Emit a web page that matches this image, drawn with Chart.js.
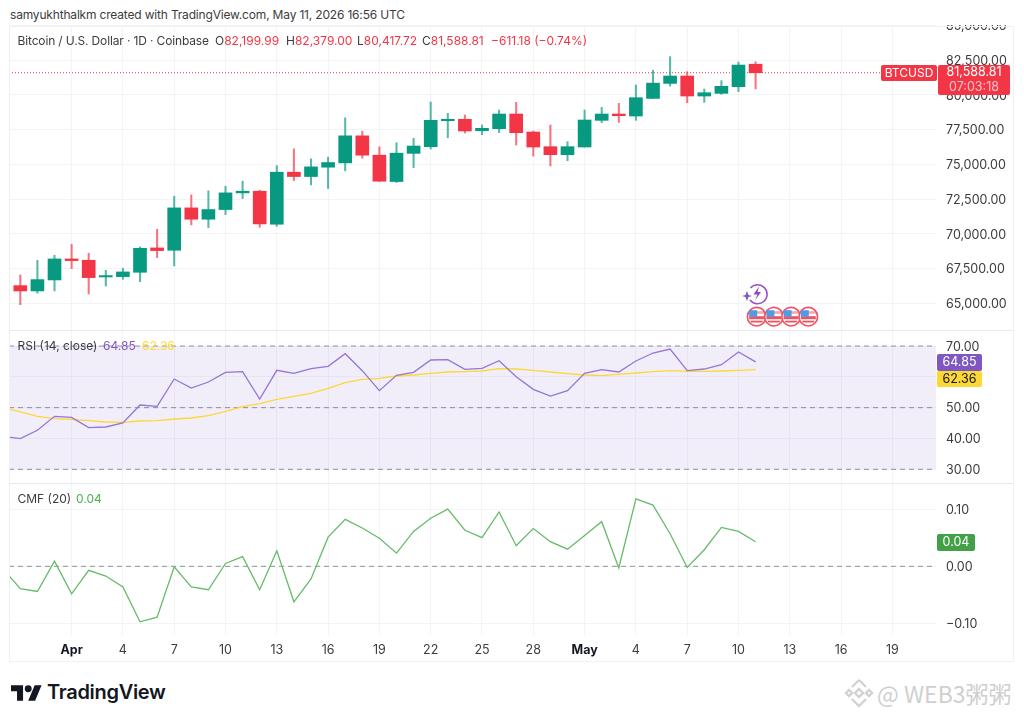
<!DOCTYPE html>
<html>
<head>
<meta charset="utf-8">
<title>BTCUSD</title>
<script src="https://cdn.jsdelivr.net/npm/chart.js@4"></script>
<style>
  html, body { margin: 0; padding: 0; background: #fff; }
  body { position: relative; width: 1024px; height: 721px; overflow: hidden; font-family: Inter, sans-serif; color: #3c3c40; font-size: 12px; }
  canvas { position: absolute; }
  .abs { position: absolute; white-space: nowrap; }
  .frame { position: absolute; left: 9px; top: 26px; width: 1005px; height: 636px; border: 1px solid #f0f1f3; box-sizing: border-box; }
  .sep { position: absolute; left: 9px; width: 1005px; height: 1px; background: #e9eaed; }
  .row { line-height: 16px; }
  .red { color: #f23645; }
  .tag { position: absolute; border-radius: 2px; text-align: center; color: #fff; line-height: 16px; font-size: 12.5px; }
</style>
</head>
<body>
<div class="abs row" style="left:10px;top:7px;letter-spacing:-0.18px">samyukhthalkm created with TradingView.com, May 11, 2026 16:56 UTC</div>

<canvas id="priceChart" width="1005" height="305" style="left:9px;top:25px;width:1005px;height:305px"></canvas>
<canvas id="rsiChart" width="1005" height="152" style="left:9px;top:331px;width:1005px;height:152px"></canvas>
<canvas id="cmfChart" width="1005" height="178" style="left:9px;top:484px;width:1005px;height:178px"></canvas>

<div class="frame"></div>
<div class="sep" style="top:330px"></div>
<div class="sep" style="top:483px"></div>

<div class="abs row" style="left:17.5px;top:33px;letter-spacing:-0.14px">Bitcoin / U.S. Dollar · 1D · Coinbase</div>
<div class="abs row" style="left:215px;top:33px">O<span class="red">82,199.99</span></div>
<div class="abs row" style="left:286px;top:33px">H<span class="red">82,379.00</span></div>
<div class="abs row" style="left:357px;top:33px">L<span class="red">80,417.72</span></div>
<div class="abs row" style="left:422px;top:33px">C<span class="red">81,588.81</span></div>
<div class="abs row red" style="left:491px;top:33px">−611.18 (−0.74%)</div>

<div class="abs row" style="left:17.5px;top:338px">RSI (14, close)</div>
<div class="abs row" style="left:103px;top:338px;color:#7e57c2">64.85</div>
<div class="abs row" style="left:142px;top:338px;color:#fdd835">62.36</div>

<div class="abs row" style="left:17.5px;top:491px">CMF (20)</div>
<div class="abs row" style="left:76px;top:491px;color:#4caf50">0.04</div>

<div class="tag" style="left:881px;top:65px;width:56px;height:16px;background:#f23645;font-size:12px">BTCUSD</div>
<div class="tag" style="left:938px;top:65px;width:72px;height:30px;background:#f23645;line-height:14.5px">81,588.81<br><span style="color:#fbc5ca">07:03:18</span></div>
<div class="tag" style="left:937px;top:354px;width:45px;height:16.5px;background:#7e57c2">64.85</div>
<div class="tag" style="left:937px;top:370.5px;width:45px;height:16.5px;background:#fdd835;color:#131722">62.36</div>
<div class="tag" style="left:937px;top:534px;width:38px;height:16.5px;background:#43a047">0.04</div>

<!-- event marks -->
<svg class="abs" style="left:738px;top:280px" width="90" height="50" viewBox="0 0 90 50">
  <path d="M12.5 8 A9.5 9.5 0 1 1 12 20" fill="none" stroke="#9c4dcc" stroke-width="1.5"/>
  <path d="M21 6.5 L15.5 14.5 L19.5 14.5 L17 20.5 L23 12 L19.5 12 Z" fill="#8e44c9"/>
  <path d="M9 11 L10.5 15 L14 16 L10.5 17 L9 21 L7.5 17 L4 16 L7.5 15 Z" fill="#7e57c2"/>
  <g id="flags"></g>
</svg>

<!-- logo -->
<svg class="abs" style="left:11px;top:683px" width="31" height="20" viewBox="0 3 36 20"><path fill="#131722" d="M14 22H7V11H0V4h14v18zM28 22h-8l7.5-18h8L28 22z"/><circle fill="#131722" cx="20" cy="8" r="4"/></svg>
<div class="abs" style="left:47px;top:679px;font-size:20px;font-weight:600;line-height:26px;color:#131722;letter-spacing:-0.3px">TradingView</div>

<!-- watermark -->
<svg class="abs" style="left:844px;top:678px" width="30" height="30" viewBox="0 0 30 30">
  <g fill="none" stroke="#d2d2d2" stroke-width="2.4">
    <path d="M15 2 L22 9 M15 2 L8 9"/><path d="M2 15 L5 12 L8 15 L5 18 Z"/><path d="M22 15 L25 12 L28 15 L25 18 Z"/>
    <path d="M15 11 L19 15 L15 19 L11 15 Z"/><path d="M8 21 L15 28 L22 21"/>
  </g>
</svg>
<div class="abs" style="left:877px;top:678px;font-size:23px;line-height:30px;color:#cfcfcf;font-family:'Noto Sans CJK SC','Noto Sans',sans-serif">@ WEB3粥粥</div>

<script>
// Daily candles, Mar 29 to May 11
const opens = [66272, 65888, 66680, 68192, 68096, 66896, 66920, 67232, 68984, 68816, 71864, 71048, 71744, 72944, 73064, 70688, 74432, 74120, 74792, 75104, 77048, 75656, 73760, 75788, 76268, 78139, 78235, 77419, 77563, 78618, 77323, 76268, 75693, 76244, 78163, 78618, 78474, 79740, 80820, 81352, 79912, 80104, 80584, 82199.99];
const highs = [67040, 68096, 68456, 69248, 68600, 67376, 67520, 69056, 70328, 72704, 72800, 73088, 73424, 73784, 73136, 74912, 76112, 75392, 75512, 78344, 77384, 76256, 76544, 76868, 79481, 78666, 78547, 77827, 78906, 79458, 77395, 77827, 76628, 78906, 79098, 79380, 80704, 81760, 82745, 81665, 80417, 81016, 82359, 82379];
const lows = [64904, 65720, 65888, 67496, 65672, 66248, 66728, 66560, 68288, 67688, 70640, 70448, 71384, 72536, 70472, 70544, 73832, 73520, 73256, 74528, 75440, 73760, 73688, 74757, 76100, 76915, 77250, 77131, 77276, 76388, 75597, 74877, 75261, 76244, 77995, 78010, 78163, 79740, 80630, 79430, 79455, 80032, 80224, 80417.72];
const closes = [65888, 66704, 68192, 68072, 66848, 66992, 67256, 68960, 68792, 71864, 71048, 71744, 72944, 73064, 70712, 74432, 74120, 74816, 75128, 77048, 75656, 73784, 75800, 76316, 78163, 78235, 77395, 77587, 78618, 77276, 76244, 75693, 76268, 78187, 78618, 78498, 79792, 80840, 81352, 79912, 80150, 80608, 82140, 81588.81];

// Indicator lines start one day before the first candle (clipped by the pane edge)
const rsiValues = [40.7, 39.95, 42.65, 47.19, 46.86, 43.51, 43.73, 45.03, 50.86, 50.43, 59.3, 56.38, 58.32, 61.46, 61.68, 52.81, 62.11, 61.14, 62.65, 63.41, 67.51, 62, 55.51, 60.49, 61.46, 65.46, 65.57, 62.43, 62.76, 65.24, 60.05, 55.95, 53.78, 55.51, 61.14, 62.32, 61.57, 65.14, 67.73, 69.03, 62, 62.54, 63.95, 68.05, 64.85];
const rsiMaValues = [50, 48.6, 47.19, 46.43, 46.22, 45.78, 45.35, 45.24, 45.68, 45.78, 46.32, 46.65, 47.41, 48.81, 50.32, 51.3, 52.7, 53.68, 54.65, 56.27, 58.11, 59.19, 59.51, 60.27, 60.59, 61.14, 61.57, 61.68, 61.89, 62.65, 62.54, 62.11, 61.57, 61.03, 60.59, 60.38, 60.81, 61.24, 61.68, 62, 61.78, 61.78, 61.89, 62.11, 62.36];
const cmfValues = [-0.005, -0.039, -0.044, 0.009, -0.048, -0.007, -0.017, -0.036, -0.097, -0.089, -0.001, -0.036, -0.041, 0.005, 0.017, -0.041, 0.027, -0.062, -0.022, 0.051, 0.082, 0.067, 0.049, 0.023, 0.061, 0.084, 0.1, 0.063, 0.05, 0.095, 0.036, 0.066, 0.043, 0.03, 0.054, 0.078, -0.003, 0.118, 0.107, 0.057, -0.002, 0.029, 0.068, 0.061, 0.043];

const lastPrice = 81588.81;

// Ticks. x values are day numbers counted from the first candle
const dayTicks = [3, 6, 9, 12, 15, 18, 21, 24, 27, 30, 33, 36, 39, 42, 45, 48, 51];
const dayLabels = ["Apr", "4", "7", "10", "13", "16", "19", "22", "25", "28", "May", "4", "7", "10", "13", "16", "19"];
const monthTicks = [3, 33];
const priceTicks = [65000, 67500, 70000, 72500, 75000, 77500, 80000, 82500, 85000];
const rsiTicks = [30, 40, 50, 60, 70];
const rsiLevels = [70, 50, 30];
const cmfTicks = [-0.1, 0, 0.1];

const GREEN = "#089981";
const RED = "#f23645";
const GRID = "#f3f4f6";
const TEXT = "#3c3c40";
const FONT = { family: "Inter, sans-serif", size: 12.5 };
const X_MIN = -0.661;
const X_MAX = 53.55;

Chart.defaults.font.family = FONT.family;
Chart.defaults.font.size = FONT.size;

const isMonth = (ctx) => ctx.tick && monthTicks.includes(ctx.tick.value);

function xAxis(showLabels) {
  return {
    type: "linear",
    offset: false,
    min: X_MIN,
    max: X_MAX,
    afterBuildTicks: (scale) => {
      scale.ticks = dayTicks.map((value) => ({ value }));
    },
    afterFit: (scale) => {
      scale.height = showLabels ? 27 : 0;
      scale.paddingLeft = 0;
      scale.paddingRight = 0;
    },
    border: { display: false },
    grid: { color: GRID, drawTicks: false, offset: false },
    ticks: {
      display: showLabels,
      autoSkip: false,
      maxRotation: 0,
      padding: 8,
      color: (ctx) => (isMonth(ctx) ? "#131722" : TEXT),
      font: (ctx) => ({ ...FONT, weight: isMonth(ctx) ? "bold" : "normal" }),
      callback: (value) => dayLabels[dayTicks.indexOf(value)],
    },
  };
}

function yAxis(min, max, tickValues, format) {
  return {
    position: "right",
    min,
    max,
    afterBuildTicks: (scale) => {
      scale.ticks = tickValues.map((value) => ({ value }));
    },
    afterFit: (scale) => {
      scale.width = 78;
      scale.paddingTop = 0; // panes run edge to edge, no room kept for end labels
      scale.paddingBottom = 0;
    },
    border: { display: false },
    grid: { color: GRID, drawTicks: false },
    ticks: { autoSkip: false, padding: 10, labelOffset: 1, color: TEXT, callback: format },
  };
}

function indicatorLine(values, color) {
  return {
    type: "line",
    data: values.map((y, i) => ({ x: i - 1, y })),
    borderColor: color,
    borderWidth: 1.3,
    pointRadius: 0,
    tension: 0,
  };
}

function levelLine(y, extra) {
  return {
    type: "line",
    data: [{ x: X_MIN, y }, { x: X_MAX, y }],
    borderColor: "#8f929b",
    borderWidth: 1,
    borderDash: [5, 4],
    pointRadius: 0,
    ...extra,
  };
}

const baseOptions = {
  responsive: false,
  animation: false,
  events: [],
  layout: { padding: 0, autoPadding: false },
  plugins: { legend: { display: false }, tooltip: { enabled: false } },
};

const candleColors = opens.map((o, i) => (closes[i] >= o ? GREEN : RED));
const formatPrice = (v) => v.toLocaleString("en-US", { minimumFractionDigits: 2, maximumFractionDigits: 2 });
const formatFixed = (v) => v.toFixed(2).replace("-", "−");

// Candles are floating bars: a thin one for the wick, a wide one for the body
new Chart(document.getElementById("priceChart"), {
  type: "bar",
  data: {
    datasets: [
      {
        data: opens.map((o, i) => ({ x: i, y: [o, closes[i]] })),
        backgroundColor: candleColors,
        barThickness: 13,
        grouped: false,
        order: 1,
      },
      {
        data: lows.map((low, i) => ({ x: i, y: [low, highs[i]] })),
        backgroundColor: candleColors.map((c) => c + "b0"),
        barThickness: 1.4,
        grouped: false,
        order: 2,
      },
      {
        type: "line",
        data: [{ x: X_MIN, y: lastPrice }, { x: X_MAX, y: lastPrice }],
        borderColor: RED,
        borderWidth: 1,
        borderDash: [1, 2],
        pointRadius: 0,
        order: 3,
      },
    ],
  },
  options: {
    ...baseOptions,
    scales: {
      x: xAxis(false),
      y: yAxis(63079, 85022, priceTicks, formatPrice),
    },
  },
});

new Chart(document.getElementById("rsiChart"), {
  type: "line",
  data: {
    datasets: [
      indicatorLine(rsiValues, "#9575d6"),
      indicatorLine(rsiMaValues, "#fdd835"),
      levelLine(rsiLevels[0], { fill: { value: rsiLevels[2] }, backgroundColor: "rgba(126, 87, 194, 0.1)" }),
      levelLine(rsiLevels[1]),
      levelLine(rsiLevels[2]),
    ],
  },
  options: {
    ...baseOptions,
    scales: {
      x: xAxis(false),
      y: yAxis(25.56, 74.87, rsiTicks, formatFixed),
    },
  },
});

new Chart(document.getElementById("cmfChart"), {
  type: "line",
  data: {
    datasets: [indicatorLine(cmfValues, "#66bb6a"), levelLine(0)],
  },
  options: {
    ...baseOptions,
    scales: {
      x: xAxis(true),
      y: yAxis(-0.1201, 0.1439, cmfTicks, formatFixed),
    },
  },
});

// US event flags under the last candles
document.getElementById("flags").innerHTML = [0, 17.2, 34.4, 51.6]
  .map((dx) => `<g transform="translate(${18.7 + dx} 36.7)">
    <circle r="9.3" fill="#fff" stroke="#f0525f" stroke-width="1.6"/>
    <rect x="-7.5" y="-5.5" width="15" height="2.6" fill="#f0525f" opacity=".5"/>
    <rect x="-7.5" y="-.5" width="15" height="3" fill="#f0525f"/>
    <rect x="-6" y="4" width="12" height="1.8" fill="#f0525f"/>
    <rect x="-7.5" y="-6.5" width="8" height="6.5" fill="#4f9be8"/>
  </g>`)
  .join("");
</script>
</body>
</html>
